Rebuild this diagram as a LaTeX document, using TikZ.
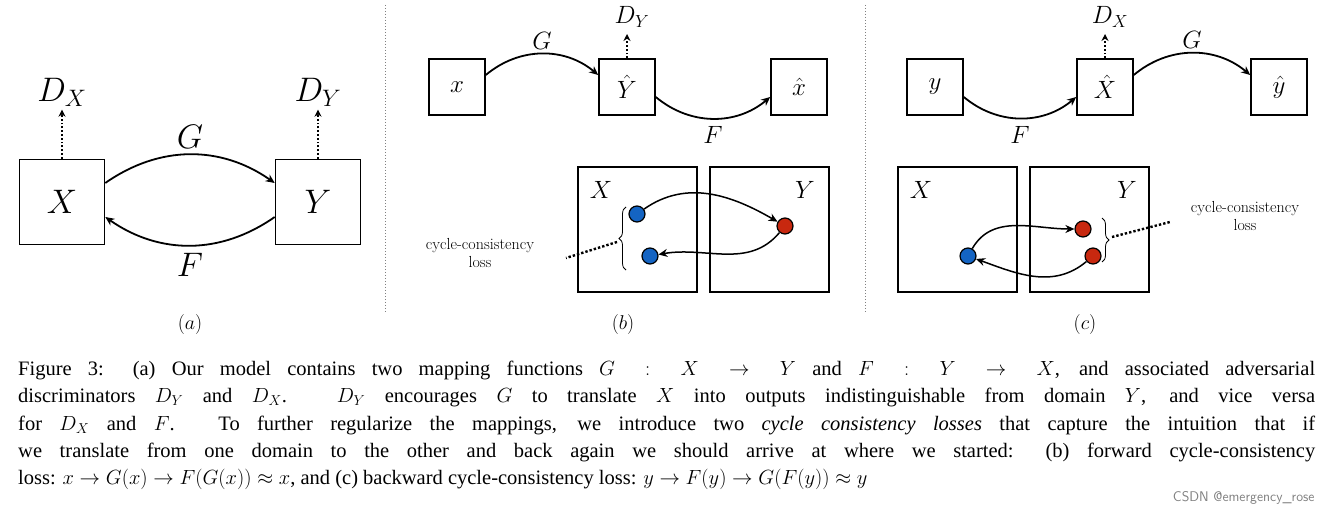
\RequirePackage{fix-cm}
\documentclass[tikz,border=0pt]{standalone}
\usepackage{amsmath}
\usepackage{fontspec}
\setmainfont{Liberation Serif}
\newfontfamily\lmfont{Latin Modern Roman}
\usetikzlibrary{arrows.meta,decorations.pathreplacing}
\definecolor{dblue}{RGB}{20,100,195}
\definecolor{dred}{RGB}{200,40,15}
\begin{document}
\begin{tikzpicture}[x=1pt,y=-1pt,
  box/.style={draw,line width=1.6pt,inner sep=0pt},
  arr/.style={line width=1.8pt,-{Stealth[length=9pt,width=8pt]}},
  dot/.style={line width=1.8pt,dotted,-{Stealth[length=7pt,width=7pt]}},
  bl/.style={circle,draw,line width=1.2pt,fill=dblue,minimum size=16pt,inner sep=0pt},
  rd/.style={circle,draw,line width=1.2pt,fill=dred,minimum size=16pt,inner sep=0pt},
  big/.style={font=\fontsize{34}{34}\selectfont},
  med/.style={font=\fontsize{25}{25}\selectfont},
  sm/.style={font=\fontsize{16}{18}\selectfont\lmfont},
  div/.style={gray,dotted,line width=1pt}]
\useasboundingbox (0,0) rectangle (1333,518);
% dividers
\draw[div] (385,5) -- (385,312);
\draw[div] (865,5) -- (865,312);
% ---- panel a
\node[box,minimum width=85pt,minimum height=85pt,big] (aX) at (62,202) {$X$};
\node[box,minimum width=85pt,minimum height=85pt,big] (aY) at (318,202) {$Y$};
\node[big] (aDX) at (62,92) {$D_X$};
\node[big] (aDY) at (318,92) {$D_Y$};
\draw[dot] (aX.north) -- (aDX.south);
\draw[dot] (aY.north) -- (aDY.south);
\draw[arr] (aX.east|-0,183) to[bend left=35] node[above,big,yshift=2pt] {$G$} (aY.west|-0,183);
\draw[arr] (aY.west|-0,217) to[bend left=35] node[below,big,yshift=-4pt] {$F$} (aX.east|-0,217);
\node[font=\fontsize{20}{20}\selectfont] (la) at (190,325) {$(a)$};
% ---- panel b
\node[box,minimum width=56pt,minimum height=56pt,med] (bx) at (457,87) {$x$};
\node[box,minimum width=56pt,minimum height=56pt,med] (bY) at (627,87) {$\hat{Y}$};
\node[box,minimum width=56pt,minimum height=56pt,med] (bxh) at (799,87) {$\hat{x}$};
\node[med] (bDY) at (632,17) {$D_Y$};
\draw[dot] (bY.north) -- (bY.north|-0,34);
\draw[arr] (bx.east|-0,75) to[bend left=40] node[above,med] {$G$} (bY.west|-0,75);
\draw[arr] (bY.east|-0,97) to[bend right=40] node[below,med,yshift=-4pt] {$F$} (bxh.west|-0,97);
\node[box,minimum width=119pt,minimum height=125pt] (bBX) at (637.5,229.5) {};
\node[box,minimum width=119pt,minimum height=125pt] (bBY) at (769.5,229.5) {};
\node[med] (bLX) at (601,190) {$X$};
\node[med] (bLY) at (805,190) {$Y$};
\node[bl] (b1) at (637,214) {};
\node[rd] (b2) at (785,226) {};
\node[bl] (b3) at (650,256) {};
\draw[arr,line width=1.5pt] (b1) to[out=35,in=150] (b2);
\draw[arr,line width=1.5pt] (b2) to[out=-130,in=10] (b3);
\draw[decorate,decoration={brace,amplitude=7pt},line width=0.8pt] (626,270) -- (626,207);
\coordinate (bbt2) at (617,242);
\node[sm,align=center] (bcl) at (480,253) {cycle-consistency\\loss};
\draw[line width=2.4pt,dotted] (bbt2) -- (566,258);
\node[font=\fontsize{20}{20}\selectfont] (lb) at (623,325) {$(b)$};
% ---- panel c
\node[box,minimum width=56pt,minimum height=56pt,med] (cy) at (935,87) {$y$};
\node[box,minimum width=56pt,minimum height=56pt,med] (cX) at (1105,87) {$\hat{X}$};
\node[box,minimum width=56pt,minimum height=56pt,med] (cyh) at (1279,87) {$\hat{y}$};
\node[med] (cDX) at (1110,17) {$D_X$};
\draw[dot] (cX.north) -- (cX.north|-0,34);
\draw[arr] (cX.east|-0,75) to[bend left=40] node[above,med] {$G$} (cyh.west|-0,75);
\draw[arr] (cy.east|-0,97) to[bend right=40] node[below,med,yshift=-4pt] {$F$} (cX.west|-0,97);
\node[box,minimum width=119pt,minimum height=125pt] (cBX) at (957.5,229.5) {};
\node[box,minimum width=119pt,minimum height=125pt] (cBY) at (1089.5,229.5) {};
\node[med] (cLX) at (921,190) {$X$};
\node[med] (cLY) at (1127,190) {$Y$};
\node[bl] (c1) at (968,256) {};
\node[rd] (c2) at (1083,229) {};
\node[rd] (c3) at (1093,256) {};
\draw[arr,line width=1.5pt] (c1) to[out=60,in=180] (c2);
\draw[arr,line width=1.5pt] (c3) to[out=-140,in=-20] (c1);
\draw[decorate,decoration={brace,amplitude=7pt},line width=0.8pt] (1102,218) -- (1102,262);
\coordinate (cbt) at (1112,237);
\node[sm,align=center] (ccl) at (1245,216) {cycle-consistency\\loss};
\draw[line width=2.4pt,dotted] (cbt) -- (1170,222);
\node[font=\fontsize{20}{20}\selectfont] (lc) at (1085,325) {$(c)$};
% ---- caption
\node[anchor=north west,inner sep=0pt,text width=1297pt,align=justify,
  font=\fontsize{20.5}{27.2}\selectfont] (cap) at (18,361) {Figure 3: (a) Our model contains two mapping functions $G : X \rightarrow Y$ and $F : Y \rightarrow X$, and associated adversarial\linebreak discriminators $D_Y$ and $D_X$. $D_Y$ encourages $G$ to translate $X$ into outputs indistinguishable from domain $Y$, and vice versa\linebreak for $D_X$ and $F$. To further regularize the mappings, we introduce two \emph{cycle consistency losses} that capture the intuition that if\linebreak we translate from one domain to the other and back again we should arrive at where we started: (b) forward cycle-consistency\linebreak loss: $x \rightarrow G(x) \rightarrow F(G(x)) \approx x$, and (c) backward cycle-consistency loss: $y \rightarrow F(y) \rightarrow G(F(y)) \approx y$};
\node[anchor=east,text=gray,font=\fontsize{14}{14}\sffamily] (wm) at (1318,498) {CSDN @emergency\_rose};
\end{tikzpicture}
\end{document}
